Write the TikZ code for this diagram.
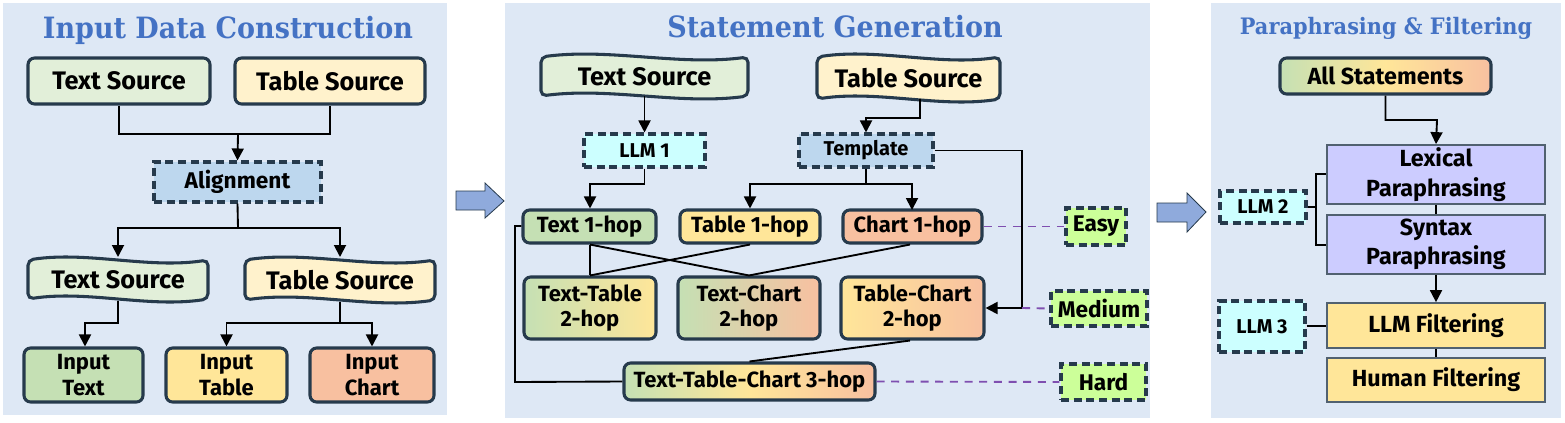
\documentclass[tikz,border=0pt]{standalone}
\usepackage{fontspec}
\setmainfont{Fira Sans}
\newfontfamily\titlefont[FakeStretch=0.92]{DejaVu Serif}
\usetikzlibrary{arrows.meta}
\definecolor{panel}{HTML}{DEE8F5}
\definecolor{ttl}{HTML}{4472C4}
\definecolor{bd}{HTML}{263A4C}
\definecolor{cg}{HTML}{C5E0B4}
\definecolor{cy}{HTML}{FFE699}
\definecolor{co}{HTML}{F8C0A0}
\definecolor{lg}{HTML}{E2EFD9}
\definecolor{ly}{HTML}{FFF2CC}
\definecolor{cb}{HTML}{BDD7EE}
\definecolor{cc}{HTML}{CCFFFF}
\definecolor{cl}{HTML}{CCCCFF}
\definecolor{cgr}{HTML}{CCFF99}
\definecolor{pur}{HTML}{7F4FB0}
\definecolor{barrow}{HTML}{8FAADC}
\pgfdeclarehorizontalshading{gyo}{100bp}{color(0bp)=(cg); color(25bp)=(cg); color(50bp)=(cy); color(75bp)=(co); color(100bp)=(co)}
\tikzset{
 rbox/.style={draw=bd, line width=2.3pt, rounded corners=5pt, inner sep=0pt, font=\bfseries\fontsize{16.5}{19}\selectfont, align=center},
 dbox/.style={draw=bd, line width=2.3pt, dash pattern=on 6pt off 3.5pt, inner sep=0pt, font=\bfseries\fontsize{15}{17}\selectfont},
 pbox/.style={draw=bd!80, line width=1.3pt, inner sep=0pt, font=\bfseries\fontsize{17.5}{22}\selectfont, align=center},
 conn/.style={line width=1.4pt, black},
 arr/.style={conn, -{Triangle[length=9pt,width=9pt]}},
 pdash/.style={line width=1.4pt, pur, dash pattern=on 6pt off 5pt},
 ttlstyle/.style={font=\titlefont\bfseries\fontsize{22}{24}\selectfont, text=ttl},
 srcfont/.style={font=\bfseries\fontsize{19}{21}\selectfont}
}
% box by corners: style, name, x1 y1 x2 y2, text
\newcommand{\bx}[7][]{%
 \pgfmathsetmacro{\cxa}{(#3+#5)/2}\pgfmathsetmacro{\cya}{(#4+#6)/2}%
 \pgfmathsetmacro{\bw}{(#5-#3)*0.75}\pgfmathsetmacro{\bh}{(#6-#4)*0.75}%
 \node[#1, minimum width=\bw pt, minimum height=\bh pt] (#2) at (\cxa,\cya) {#7};}
% wavy box: name x1 y1 x2 y2 fill text
\newcommand{\wavybox}[7]{%
 \pgfmathsetmacro{\wa}{#2+(#4-#2)/3}\pgfmathsetmacro{\wb}{#2+2*(#4-#2)/3}%
 \draw[draw=bd, line width=2.3pt, fill=#6, rounded corners=4pt] (#2,#3) .. controls (\wa,#3-9) and (\wb,#3+9) .. (#4,#3) -- (#4,#5) .. controls (\wb,#5+9) and (\wa,#5-9) .. (#2,#5) -- cycle;
 \bx[srcfont, inner sep=0pt]{#1}{#2}{#3}{#4}{#5}{#7}}
\begin{document}
\begin{tikzpicture}[x=0.75pt,y=-0.75pt]
\useasboundingbox (0,0) rectangle (1565,422);
% panels
\fill[panel] (3,3) rectangle (447,415);
\fill[panel] (505,3) rectangle (1150,418);
\fill[panel] (1211,3) rectangle (1561,418);
\node[ttlstyle] (t1) at (228,30) {Input Data Construction};
\node[ttlstyle] (t2) at (835,27) {Statement Generation};
\node[ttlstyle, font=\titlefont\bfseries\fontsize{17}{19}\selectfont] (t3) at (1386,28) {Paraphrasing \& Filtering};
% block arrows
\fill[barrow, draw=bd, line width=0.6pt] (456,191) -- (485,191) -- (485,183) -- (504,201) -- (485,218) -- (485,210) -- (456,210) -- cycle;
\fill[barrow, draw=bd, line width=0.6pt] (1157,203) -- (1187,203) -- (1187,193) -- (1206,212) -- (1187,232) -- (1187,222) -- (1157,222) -- cycle;
%% panel 1
\bx[rbox, fill=lg, srcfont]{ts1}{28}{58}{210}{104}{Text Source}
\bx[rbox, fill=ly, srcfont]{tb1}{235}{58}{425}{104}{Table Source}
\bx[dbox, fill=cb, font=\bfseries\fontsize{17}{19}\selectfont]{al}{154}{162}{321}{202}{Alignment}
\wavybox{ts2}{28}{260}{208}{299}{lg}{Text Source}
\wavybox{tb2}{245}{260}{435}{300}{ly}{Table Source}
\bx[rbox, fill=cg]{it}{24}{348}{143}{402}{Input\\Text}
\bx[rbox, fill=cy]{itb}{166}{348}{287}{402}{Input\\Table}
\bx[rbox, fill=co]{ic}{310}{348}{434}{402}{Input\\Chart}
\coordinate (j1) at (238,134);
\draw[conn] (ts1.south) |- (j1) -| (tb1.south);
\draw[arr] (j1) -- (al.north);
\draw[conn] (al.south) -- (238,228);
\draw[arr] (238,228) -| (118,257);
\draw[arr] (238,228) -| (340,257);
\draw[arr] (118,301) |- (85,323) -- (it.north -| 85,0);
\draw[conn] (340,302) -- (340,323);
\draw[arr] (340,323) -| (itb.north);
\draw[arr] (340,323) -| (ic.north);
%% panel 2
\wavybox{ts3}{541}{57}{748}{96}{lg}{Text Source}
\wavybox{tb3}{817}{57}{1000}{99}{ly}{Table Source}
\bx[dbox, fill=cc]{llm1}{584}{134}{705}{167}{LLM 1}
\bx[dbox, fill=cb]{tpl}{799}{134}{933}{167}{Template}
\bx[rbox, fill=cg]{h1}{523}{210}{656}{243}{Text 1-hop}
\bx[rbox, fill=cy]{h2}{680}{210}{820}{243}{Table 1-hop}
\bx[rbox, fill=co]{h3}{843}{210}{982}{243}{Chart 1-hop}
\bx[rbox, left color=cg, right color=cy]{m1}{524}{277}{656}{339}{Text-Table\\2-hop}
\bx[rbox, left color=cg, right color=co]{m2}{678}{277}{820}{339}{Text-Chart\\2-hop}
\bx[rbox, left color=cy, right color=co]{m3}{841}{277}{984}{339}{Table-Chart\\2-hop}
\bx[rbox, shading=gyo]{h4}{624}{363}{875}{400}{Text-Table-Chart 3-hop}
\bx[dbox, fill=cgr, font=\bfseries\fontsize{17}{19}\selectfont]{easy}{1066}{208}{1126}{245}{Easy}
\bx[dbox, fill=cgr, font=\bfseries\fontsize{17}{19}\selectfont]{med}{1051}{291}{1147}{326}{Medium}
\bx[dbox, fill=cgr, font=\bfseries\fontsize{17}{19}\selectfont]{hard}{1061}{364}{1146}{400}{Hard}
\draw[arr] (ts3.south -| llm1.north) -- (llm1.north);
\draw[arr] (tb3.south -| 920,0) |- (866,118) -- (tpl.north -| 866,0);
\draw[arr] (llm1.south) |- (590,184) -- (h1.north -| 590,0);
\draw[conn] (tpl.south -| 866,0) -- (866,184);
\draw[arr] (866,184) -| (h2.north);
\draw[arr] (866,184) -| (912,210);
\draw[arr] (tpl.east) -| (1022,308) -- (m3.east |- 0,308);
\draw[conn] (h1.south -| 590,0) -- (m1.north -| 590,0);
\draw[conn] (h1.south -| 590,0) -- (m2.north);
\draw[conn] (h2.south) -- (m1.north -| 590,0);
\draw[conn] (h3.south -| 910,0) -- (m2.north);
\draw[conn] (m3.south -| 910,0) -- (h4.north);
\draw[conn] (h1.west |- 0,226) -| (515,382) -- (h4.west);
\draw[pdash] (h3.east) -- (easy.west);
\draw[pdash] (1022,308) -- (med.west);
\draw[pdash] (h4.east) -- (hard.west);
%% panel 3
\bx[rbox, shading=gyo, font=\bfseries\fontsize{17.5}{19}\selectfont]{all}{1280}{58}{1491}{94}{All Statements}
\bx[pbox, fill=cl]{lex}{1327}{145}{1545}{204}{Lexical\\Paraphrasing}
\bx[pbox, fill=cl]{syn}{1327}{215}{1545}{274}{Syntax\\Paraphrasing}
\bx[pbox, fill=cy]{lf}{1327}{303}{1545}{348}{LLM Filtering}
\bx[pbox, fill=cy]{hf}{1327}{358}{1545}{402}{Human Filtering}
\bx[dbox, fill=cc]{llm2}{1220}{191}{1306}{223}{LLM 2}
\bx[dbox, fill=cc]{llm3}{1219}{301}{1305}{352}{LLM 3}
\draw[arr] (all.south) |- (1437,120) -- (lex.north);
\draw[conn] (lex.south) -- (syn.north);
\draw[arr] (syn.south) -- (lf.north);
\draw[conn] (lf.south) -- (hf.north);
\draw[conn] (llm2.east) -- (1316,207);
\draw[conn] (lex.west |- 0,174) -| (1316,245) -- (syn.west |- 0,245);
\draw[conn] (llm3.east |- 0,326) -- (lf.west |- 0,326);
\end{tikzpicture}
\end{document}
